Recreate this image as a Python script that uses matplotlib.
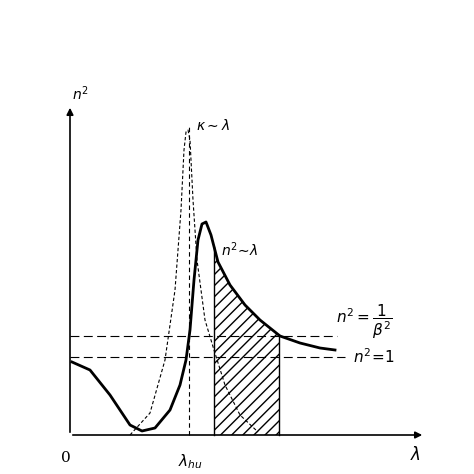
import matplotlib
matplotlib.use("Agg")
import matplotlib.pyplot as plt
import numpy as np

# pixel-style coordinates (x right, y up from bottom of 474 image)
n2_x = [72, 90, 110, 130, 142, 155, 170, 180, 186, 190, 194, 198, 202, 206, 211, 218, 230, 245, 260, 280, 300, 320, 335]
n2_y = [362, 370, 395, 425, 431, 428, 410, 385, 360, 330, 280, 240, 224, 222, 235, 262, 285, 305, 320, 336, 343, 348, 350]
k_x = [130, 150, 165, 175, 181, 184, 186, 188, 190, 193, 197, 205, 214, 225, 240, 258]
k_y = [435, 413, 360, 290, 210, 150, 132, 130, 140, 200, 260, 320, 350, 385, 415, 432]

H = 474
fig = plt.figure(figsize=(4.74, 4.74), dpi=100)
ax = fig.add_axes([0, 0, 1, 1])
ax.set_xlim(0, 474); ax.set_ylim(0, 474); ax.axis('off')
Y = lambda v: H - np.asarray(v)

nx = np.array(n2_x); ny = Y(n2_y)
ax.plot(nx, ny, color='black', lw=2)
ax.plot(k_x, Y(k_y), color='black', lw=0.8, ls=(0, (3, 2)))
# hatched region
xs = np.linspace(214, 279, 50)
ys = np.interp(xs, nx, ny)
ax.fill_between(xs, Y(435), ys, facecolor='none', edgecolor='black', hatch='///', lw=0)
ax.plot([214, 214], [Y(435), np.interp(214, nx, ny)], color='black', lw=1)
ax.plot([279, 279], [Y(435), np.interp(279, nx, ny)], color='black', lw=1)
# reference lines
ax.plot([70, 337], Y([336, 336]), color='black', lw=0.8, ls=(0, (8, 4)))
ax.plot([70, 345], Y([357, 357]), color='black', lw=0.8, ls=(0, (8, 4)))
ax.plot([189, 189], Y([435, 125]), color='black', lw=0.8, ls=(0, (4, 3)))
# axes arrows
ax.annotate('', xy=(425, Y(435)), xytext=(70, Y(435)), arrowprops=dict(arrowstyle='-|>', color='black', lw=1.2))
ax.annotate('', xy=(70, Y(105)), xytext=(70, Y(435)), arrowprops=dict(arrowstyle='-|>', color='black', lw=1.2))

f = dict(family='DejaVu Serif', color='black')
ax.text(72, Y(100), r'$n^2$', fontsize=10, **f)
ax.text(410, Y(460), r'$\lambda$', fontsize=12, **f)
ax.text(66, Y(458), '0', fontsize=11, ha='center', va='center', **f)
ax.text(190, Y(462), r'$\lambda_{hu}$', fontsize=11, ha='center', va='center', **f)
ax.text(196, Y(125), r'$\kappa\sim\lambda$', fontsize=10, va='center', **f)
ax.text(221, Y(250), r'$n^2\!\sim\!\lambda$', fontsize=10, va='center', **f)
ax.text(336, Y(322), r'$n^2=\dfrac{1}{\beta^2}$', fontsize=11, va='center', **f)
ax.text(353, Y(357), r'$n^2\!=\!1$', fontsize=11, va='center', **f)

fig.savefig('out.png', dpi=100, facecolor='white')
